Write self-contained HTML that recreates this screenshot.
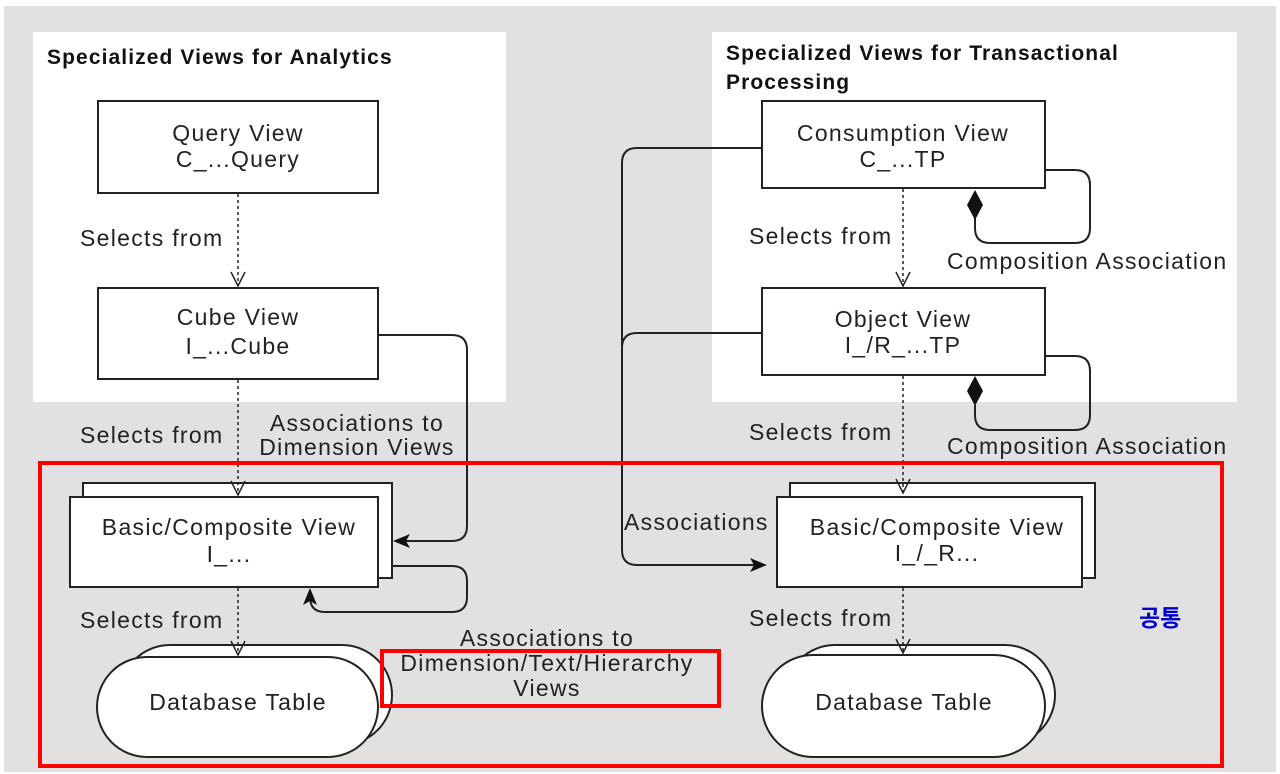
<!DOCTYPE html>
<html><head><meta charset="utf-8"><style>
html,body{margin:0;padding:0;background:#fff}
svg{display:block}
text{font-family:"Liberation Sans","Noto Sans CJK KR",sans-serif;fill:#222;font-size:23px;letter-spacing:1.3px}
.b{font-weight:bold;font-size:21px;fill:#111;letter-spacing:1.1px}
</style></head><body>
<svg width="1280" height="774" viewBox="0 0 1280 774" xmlns="http://www.w3.org/2000/svg">
<rect x="4" y="6" width="1272" height="766" fill="#e1e1e1"/>
<rect x="33" y="32" width="473" height="370" fill="#fff"/>
<rect x="712" y="32" width="525" height="370" fill="#fff"/>
<text class="b" x="47" y="64">Specialized Views for Analytics</text>
<text class="b" x="726" y="60">Specialized Views for Transactional</text>
<text class="b" x="726" y="89">Processing</text>

<g fill="#fff" stroke="#222" stroke-width="2">
<rect x="98" y="101" width="280" height="92"/>
<rect x="98" y="288" width="280" height="91"/>
<rect x="83" y="483" width="309" height="95"/>
<rect x="70" y="497" width="308" height="90"/>
<rect x="120" y="645" width="272" height="100" rx="50"/>
<rect x="97" y="657" width="281" height="100" rx="50"/>
<rect x="762" y="101" width="283" height="87"/>
<rect x="762" y="288" width="283" height="87"/>
<rect x="790" y="483" width="305" height="95"/>
<rect x="777" y="497" width="305" height="90"/>
<rect x="785" y="645" width="270" height="100" rx="50"/>
<rect x="762" y="655" width="283" height="102" rx="51"/>
</g>

<g text-anchor="middle">
<text x="238" y="141">Query View</text><text x="238" y="167">C_...Query</text>
<text x="238" y="325">Cube View</text><text x="238" y="354">I_...Cube</text>
<text x="229" y="535">Basic/Composite View</text><text x="229" y="562">I_...</text>
<text x="238" y="710">Database Table</text>
<text x="903" y="141">Consumption  View</text><text x="903" y="167">C_...TP</text>
<text x="903" y="327">Object  View</text><text x="903" y="353">I_/R_...TP</text>
<text x="937" y="535">Basic/Composite View</text><text x="937" y="561">I_/_R...</text>
<text x="904" y="710">Database Table</text>
<text x="357" y="431">Associations to</text><text x="357" y="455">Dimension Views</text>
<text x="547" y="646">Associations to</text><text x="547" y="671">Dimension/Text/Hierarchy</text><text x="547" y="696">Views</text>
</g>
<text x="80" y="246">Selects from</text>
<text x="80" y="443">Selects from</text>
<text x="80" y="628">Selects from</text>
<text x="749" y="244">Selects from</text>
<text x="749" y="440">Selects from</text>
<text x="749" y="626">Selects from</text>
<text x="624" y="530">Associations</text>
<text x="947" y="269">Composition Association</text>
<text x="947" y="454">Composition Association</text>

<g fill="none" stroke="#222" stroke-width="1.5" stroke-dasharray="3,3">
<line x1="238" y1="194" x2="238" y2="286"/>
<line x1="238" y1="380" x2="238" y2="495"/>
<line x1="238" y1="588" x2="238" y2="655"/>
<line x1="903" y1="189" x2="903" y2="286"/>
<line x1="903" y1="376" x2="903" y2="493"/>
<line x1="903" y1="588" x2="903" y2="653"/>
</g>
<g fill="none" stroke="#222" stroke-width="1.5">
<path d="M231,272 L238,286 L245,272"/>
<path d="M231,481 L238,495 L245,481"/>
<path d="M231,641 L238,655 L245,641"/>
<path d="M896,272 L903,286 L910,272"/>
<path d="M896,479 L903,493 L910,479"/>
<path d="M896,639 L903,653 L910,639"/>
</g>
<g fill="none" stroke="#222" stroke-width="2">
<path d="M378,335 H452 Q467,335 467,350 V526 Q467,541 452,541 H400"/>
<path d="M392,566 H452 Q467,566 467,581 V597 Q467,612 452,612 H325 Q310,612 310,597 V595"/>
<path d="M762,148 H637 Q622,148 622,163 V550 Q622,565 637,565 H758"/>
<path d="M762,333 H637 Q622,333 622,348"/>
<path d="M1045,170 H1075 Q1090,170 1090,185 V228 Q1090,243 1075,243 H990 Q975,243 975,228 V218"/>
<path d="M1045,356 H1075 Q1090,356 1090,371 V415 Q1090,430 1075,430 H990 Q975,430 975,415 V405"/>
</g>
<g fill="#111">
<path d="M393,541 L410,534 L406,541 L410,548 Z"/>
<path d="M310,588 L303,605 L310,601 L317,605 Z"/>
<path d="M767,565 L750,558 L754,565 L750,572 Z"/>
<path d="M975,190 L983,205 L975,220 L967,205 Z"/>
<path d="M975,376 L983,391 L975,406 L967,391 Z"/>
</g>
<rect x="40" y="463" width="1182" height="303" fill="none" stroke="#f00" stroke-width="4"/>
<rect x="382" y="651" width="337" height="55" fill="none" stroke="#f00" stroke-width="4"/>
<text x="1139" y="626" style="fill:#0000cc;font-weight:bold;font-size:23px;letter-spacing:0">공통</text>
</svg>
</body></html>
